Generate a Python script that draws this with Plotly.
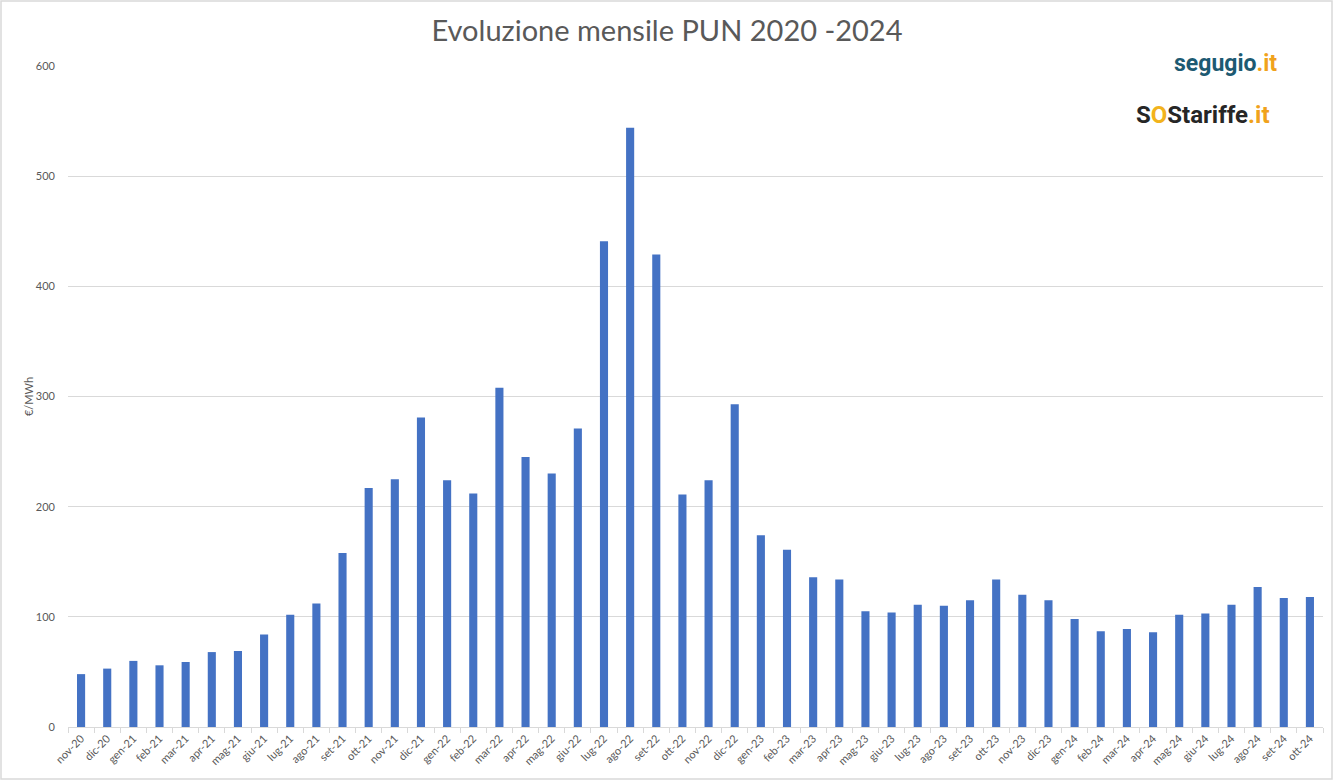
import plotly.graph_objects as go

months = ["nov-20", "dic-20", "gen-21", "feb-21", "mar-21", "apr-21", "mag-21", "giu-21",
          "lug-21", "ago-21", "set-21", "ott-21", "nov-21", "dic-21", "gen-22", "feb-22",
          "mar-22", "apr-22", "mag-22", "giu-22", "lug-22", "ago-22", "set-22", "ott-22",
          "nov-22", "dic-22", "gen-23", "feb-23", "mar-23", "apr-23", "mag-23", "giu-23",
          "lug-23", "ago-23", "set-23", "ott-23", "nov-23", "dic-23", "gen-24", "feb-24",
          "mar-24", "apr-24", "mag-24", "giu-24", "lug-24", "ago-24", "set-24", "ott-24"]
pun = [48, 53, 60, 56, 59, 68, 69, 84,
       102, 112, 158, 217, 225, 281, 224, 212,
       308, 245, 230, 271, 441, 544, 429, 211,
       224, 293, 174, 161, 136, 134, 105, 104,
       111, 110, 115, 134, 120, 115, 98, 87,
       89, 86, 102, 103, 111, 127, 117, 118]
y_ticks = [0, 100, 200, 300, 400, 500, 600]

FONT = "Lato, 'Open Sans', sans-serif"
GREY = "#595959"

fig = go.Figure()
fig.add_trace(go.Bar(x=months, y=pun, marker=dict(color="#4472c4", line=dict(width=0)),
                     width=0.31, name="PUN"))

L, R, T, B = 68, 11, 66, 54
W, H = 1334, 781
pw, ph = W - L - R, H - T - B

def px_x(x):
    return (x - L) / pw

def px_y(y):
    return (H - B - y) / ph

fig.update_layout(
    width=W, height=H,
    margin=dict(l=L, r=R, t=T, b=B),
    paper_bgcolor="white", plot_bgcolor="white",
    showlegend=False,
    font=dict(family=FONT, color=GREY),
    title=dict(text="Evoluzione mensile PUN 2020 -2024", x=0.5, xanchor="center",
               y=1 - 31 / H, yanchor="middle",
               font=dict(size=29, color=GREY, family=FONT)),
    xaxis=dict(type="category", tickangle=-45, tickfont=dict(size=11, color=GREY),
               showline=True, linecolor="#d9d9d9", linewidth=1,
               ticks="outside", tickson="boundaries", ticklen=5, tickcolor="#d9d9d9",
               showgrid=False, fixedrange=True),
    yaxis=dict(range=[0, 600], tickvals=y_ticks, tickfont=dict(size=11, color=GREY),
               showgrid=True, gridcolor="#d9d9d9", gridwidth=1, zeroline=False,
               ticks="", ticklabelstandoff=12,
               title=dict(text="€/MWh", font=dict(size=11, color=GREY), standoff=0)),
    bargap=0.7,
)

# chart border
fig.add_shape(type="rect", xref="paper", yref="paper",
              x0=px_x(1), x1=px_x(1332), y0=px_y(779), y1=px_y(1),
              line=dict(color="#d9d9d9", width=1.5), fillcolor="rgba(0,0,0,0)", layer="above")
# logo background
fig.add_shape(type="rect", xref="paper", yref="paper",
              x0=px_x(1085), x1=px_x(1316), y0=px_y(140), y1=px_y(36),
              line=dict(width=0), fillcolor="white", layer="above")

fig.add_annotation(xref="paper", yref="paper", x=px_x(1172), y=px_y(64), xanchor="left",
                   yanchor="middle", showarrow=False,
                   text="<b><span style='color:#1d5a72'>segugio</span>"
                        "<span style='color:#f0a21c'>.it</span></b>",
                   font=dict(size=23, family="Roboto, sans-serif"))
fig.add_annotation(xref="paper", yref="paper", x=px_x(1134), y=px_y(115), xanchor="left",
                   yanchor="middle", showarrow=False,
                   text="<b><span style='color:#262626'>S</span>"
                        "<span style='color:#f2b31c'>O</span>"
                        "<span style='color:#262626'>Stariffe</span>"
                        "<span style='color:#f0a21c'>.it</span></b>",
                   font=dict(size=24, family="Roboto, sans-serif"))

fig.write_html("out.html")
